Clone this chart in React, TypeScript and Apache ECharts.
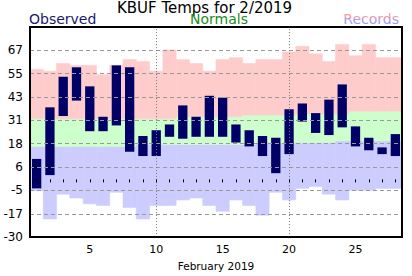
import React, { useEffect, useRef } from 'react';
import * as echarts from 'echarts';

const TITLE = 'KBUF Temps for 2/2019';
const X_NAME = 'February 2019';

const days = [1, 2, 3, 4, 5, 6, 7, 8, 9, 10, 11, 12, 13, 14, 15, 16, 17, 18, 19, 20, 21, 22, 23, 24, 25, 26, 27, 28];

const obsHigh = [10.6, 37.4, 53.3, 58.2, 48.3, 32.5, 59.2, 58.2, 22.5, 25.5, 28.5, 38.4, 32.5, 43.4, 42.4, 28.5, 25.5, 22.5, 21.6, 36.4, 39.4, 34.4, 41.4, 49.3, 27.5, 21.6, 16.6, 23.5];
const obsLow = [-4.7, 2.2, 32.9, 40.9, 25.0, 25.0, 28.0, 14.3, 12.1, 12.1, 22.1, 21.1, 22.1, 22.1, 22.1, 19.1, 17.1, 12.1, 3.2, 13.1, 30.0, 24.1, 23.0, 27.0, 17.1, 15.1, 13.1, 12.1];

const normHigh = [31.5, 31.5, 31.5, 31.5, 31.5, 31.5, 31.5, 31.5, 31.5, 31.5, 31.5, 32.5, 32.5, 32.5, 32.5, 32.5, 33.4, 33.4, 33.4, 33.4, 34.0, 34.0, 34.0, 34.0, 35.4, 35.4, 35.4, 35.4];
const normLow = [17.1, 17.1, 17.1, 17.1, 17.1, 17.1, 17.1, 17.1, 18.1, 18.1, 18.1, 18.1, 18.1, 18.1, 18.1, 18.1, 18.1, 19.1, 19.1, 19.1, 19.1, 19.1, 19.1, 20.0, 20.0, 20.0, 20.0, 20.0];

const recHigh = [57.2, 56.2, 60.2, 59.2, 59.2, 54.3, 59.2, 62.2, 61.2, 56.2, 67.2, 62.2, 60.2, 56.2, 62.2, 63.2, 60.2, 62.2, 62.2, 66.2, 69.1, 65.2, 61.2, 70.1, 64.2, 70.1, 63.2, 63.2];
const recLow = [-5.9, -20.6, -7.7, -9.7, -12.7, -13.6, -6.7, -14.6, -20.6, -13.6, -13.6, -10.7, -9.7, -13.6, -16.6, -10.7, -13.6, -18.6, -6.7, -10.7, -4.7, -3.7, -7.7, -10.7, -5.7, -5.7, -4.7, -4.7];

const yTickLabels = ['-30', '-17', '-5', '6', '18', '31', '43', '55', '67'];
const xTickLabels = [5, 10, 15, 20, 25];
const gridDays = [10, 20];

const Y_MIN = -30;
const Y_STEP = 12.125;
const Y_MAX = Y_MIN + Y_STEP * yTickLabels.length;
const yTickPos = yTickLabels.map((_, i) => Y_MIN + i * Y_STEP);

const FONT = '"DejaVu Sans", Verdana, sans-serif';
const RECORDS = 'Records';

export default function App() {
  const ref = useRef<HTMLDivElement>(null);

  useEffect(() => {
    if (!ref.current) return;
    const chart = echarts.init(ref.current, undefined, { renderer: 'svg' });

    const bandColors = ['#ccccff', '#ccffcc', '#ffcccc'];

    const option: any = {
      animation: false,
      grid: {
        left: 30,
        right: 10,
        top: 27,
        bottom: 30,
        show: true,
        borderColor: '#000',
        borderWidth: 2,
        backgroundColor: 'transparent',
        z: 6,
      },
      xAxis: {
        type: 'value',
        min: 0.5,
        max: 28.5,
        z: 5,
        axisLine: { show: false },
        axisTick: {
          show: true,
          customValues: days,
          length: 3,
          lineStyle: { color: '#000', width: 1 },
        },
        axisLabel: {
          customValues: xTickLabels,
          fontSize: 11,
          fontFamily: FONT,
          color: '#000',
          margin: 7,
        },
        splitLine: { show: false },
        name: X_NAME,
        nameLocation: 'middle',
        nameGap: 16,
        nameTextStyle: { fontSize: 10.5, fontFamily: FONT, color: '#000' },
      },
      yAxis: {
        type: 'value',
        min: Y_MIN,
        max: Y_MAX,
        z: 5,
        axisLine: { show: false },
        axisTick: { show: false, customValues: yTickPos },
        axisLabel: {
          customValues: yTickPos,
          fontSize: 12,
          fontFamily: FONT,
          color: '#000',
          margin: 7,
          formatter: (v: number) => {
            const i = yTickPos.findIndex((p) => Math.abs(p - v) < 1e-6);
            return i >= 0 ? yTickLabels[i] : '';
          },
        },
        splitLine: {
          show: true,
          lineStyle: { color: '#999', type: [4, 3], width: 1 },
        },
      },
      series: [
        {
          type: 'custom',
          z: 1,
          silent: true,
          data: days.map((d, i) => [d, recLow[i], normLow[i], normHigh[i], recHigh[i]]),
          encode: { x: 0, y: [1, 2, 3, 4] },
          renderItem: (params: any, api: any) => {
            const d = api.value(0);
            const vals = [api.value(1), api.value(2), api.value(3), api.value(4)];
            const children: any[] = [];
            for (let k = 0; k < 3; k++) {
              const p1 = api.coord([d - 0.5, vals[k + 1]]);
              const p2 = api.coord([d + 0.5, vals[k]]);
              children.push({
                type: 'rect',
                shape: { x: p1[0], y: p1[1], width: p2[0] - p1[0], height: p2[1] - p1[1] },
                style: { fill: bandColors[k], stroke: bandColors[k], lineWidth: 0.6 },
              });
            }
            return { type: 'group', children };
          },
        },
        {
          type: 'custom',
          z: 2,
          silent: true,
          data: days.map((d, i) => [d, obsLow[i], obsHigh[i]]),
          encode: { x: 0, y: [1, 2] },
          renderItem: (params: any, api: any) => {
            const d = api.value(0);
            const p1 = api.coord([d - 0.35, api.value(2)]);
            const p2 = api.coord([d + 0.35, api.value(1)]);
            return {
              type: 'rect',
              shape: { x: p1[0], y: p1[1], width: p2[0] - p1[0], height: p2[1] - p1[1] },
              style: { fill: '#000066' },
            };
          },
          markLine: {
            silent: true,
            symbol: ['none', 'none'],
            label: { show: false },
            lineStyle: { color: '#777', type: [1, 2], width: 1 },
            data: gridDays.map((d) => ({ xAxis: d })),
          },
        },
      ],
      graphic: [
        {
          type: 'text',
          x: 204.5,
          y: 8.2,
          z: 10,
          style: {
            text: TITLE,
            fontSize: 15,
            fontFamily: FONT,
            fill: '#000',
            align: 'center',
            verticalAlign: 'middle',
            textAlign: 'center',
            textVerticalAlign: 'middle',
          },
        },
        {
          type: 'text',
          x: 29,
          y: 18.8,
          z: 10,
          style: {
            text: 'Observed',
            fontSize: 14,
            fontFamily: FONT,
            fill: '#191970',
            align: 'left',
            verticalAlign: 'middle',
            textAlign: 'left',
            textVerticalAlign: 'middle',
          },
        },
        {
          type: 'text',
          x: 219,
          y: 19.3,
          z: 10,
          style: {
            text: 'Normals',
            fontSize: 14,
            fontFamily: FONT,
            fill: '#228b22',
            align: 'center',
            verticalAlign: 'middle',
            textAlign: 'center',
            textVerticalAlign: 'middle',
          },
        },
        {
          type: 'text',
          x: 399,
          y: 18.8,
          z: 10,
          style: {
            text: RECORDS,
            fontSize: 14,
            fontFamily: FONT,
            fill: '#cc99cc',
            align: 'right',
            verticalAlign: 'middle',
            textAlign: 'right',
            textVerticalAlign: 'middle',
          },
        },
      ],
    };

    chart.setOption(option);

    // zrender turns gradient text fills into black, so apply the pink-to-lavender
    // gradient of the "Records" legend text directly on the rendered SVG text.
    const applyGradient = () => {
      const svg = ref.current?.querySelector('svg');
      if (!svg) return;
      const ns = 'http://www.w3.org/2000/svg';
      let defs = svg.querySelector('defs');
      if (!defs) {
        defs = document.createElementNS(ns, 'defs');
        svg.insertBefore(defs, svg.firstChild);
      }
      if (!svg.querySelector('#recordsGrad')) {
        const lg = document.createElementNS(ns, 'linearGradient');
        lg.setAttribute('id', 'recordsGrad');
        lg.setAttribute('x1', '0');
        lg.setAttribute('y1', '0');
        lg.setAttribute('x2', '0');
        lg.setAttribute('y2', '1');
        const stops: [string, string][] = [
          ['0.33', '#ff9999'],
          ['0.62', '#9999ff'],
        ];
        stops.forEach(([o, c]) => {
          const s = document.createElementNS(ns, 'stop');
          s.setAttribute('offset', o);
          s.setAttribute('stop-color', c);
          lg.appendChild(s);
        });
        defs.appendChild(lg);
      }
      svg.querySelectorAll('text').forEach((t) => {
        if (t.textContent === RECORDS) {
          t.setAttribute('fill', 'url(#recordsGrad)');
          (t as SVGElement).style.fill = 'url(#recordsGrad)';
        }
      });
    };
    applyGradient();
    chart.on('finished', applyGradient);
    const timer = window.setTimeout(applyGradient, 50);

    return () => {
      window.clearTimeout(timer);
      chart.dispose();
    };
  }, []);

  return (
    <div
      ref={ref}
      style={{ position: 'fixed', left: 0, top: 0, width: 412, height: 276, background: '#fff' }}
    />
  );
}
